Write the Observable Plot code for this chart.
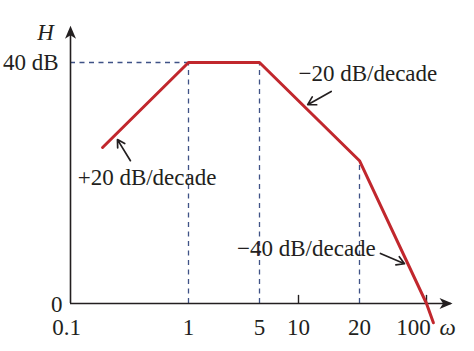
<!DOCTYPE html>
<html>
<head>
<meta charset="utf-8">
<script src="https://cdn.jsdelivr.net/npm/d3@7"></script>
<script src="https://cdn.jsdelivr.net/npm/@observablehq/plot@0.6"></script>
<style>
  html, body { margin: 0; padding: 0; background: #fff; }
  svg text { font-family: "Liberation Serif", "Times New Roman", serif; }
</style>
</head>
<body>
<div id="chart"></div>
<script>
// Bode magnitude asymptotes (omega, H in dB)
const omega = [0.187, 1, 5, 20, 100, 118];
const H = [25.9, 40, 40, 23.7, 0, -3.2];

// Axis tick labels
const xTicks = [0.1, 1, 5, 10, 20, 100];
const xTickLabels = ["0.1", "1", "5", "10", "20", "100"];
const yTicks = [0, 40];
const yTickLabels = ["0", "40 dB"];

// Corner frequencies with dashed guides
const corners = [1, 5, 20];
const cornerH = [40, 40, 23.7];
const smallTicks = [10, 100];

// Slope annotations: label, label position, arrow tail, arrow head
const annLabels = ["+20 dB/decade", "\u221220 dB/decade", "\u221240 dB/decade"];
const annX = [0.115, 10, 29.6];
const annY = [20.9, 38.2, 9.1];
const annAnchor = ["start", "start", "end"];
const arrowX1 = [0.322, 14.5, 33.1];
const arrowY1 = [23.7, 35.2, 8.3];
const arrowX2 = [0.25, 11.1, 59];
const arrowY2 = [27.2, 33.0, 6.6];

// Axis extents
const xAxisEnd = 187;
const yAxisEnd = 46.1;

const curve = omega.map((w, i) => ({w, h: H[i]}));
const guides = corners.map((w, i) => ({w, h: cornerH[i]}));
const ann = annLabels.map((t, i) => ({t, x: annX[i], y: annY[i], anchor: annAnchor[i],
  x1: arrowX1[i], y1: arrowY1[i], x2: arrowX2[i], y2: arrowY2[i]}));
const xt = xTicks.map((v, i) => ({v, label: xTickLabels[i]}));
const yt = yTicks.map((v, i) => ({v, label: yTickLabels[i]}));

const arrowHead = {
  draw(ctx) {
    ctx.moveTo(0, 0);
    ctx.lineTo(5.5, 13);
    ctx.lineTo(0, 9.5);
    ctx.lineTo(-5.5, 13);
    ctx.closePath();
  }
};

const font = "'Liberation Serif', 'Times New Roman', serif";
const ink = "#231f20";
const red = "#c1272d";
const blue = "#3f5286";
const fs = 23;

const plot = Plot.plot({
  width: 474,
  height: 351,
  x: {type: "log", domain: xTicks, range: [70, 188, 259, 298, 359, 426], axis: null},
  y: {domain: [0, 40], range: [303, 62], axis: null},
  style: {fontFamily: font, background: "#fff"},
  marks: [
    // dashed guides
    Plot.ruleY([40], {x1: 0.1, x2: 1, stroke: blue, strokeWidth: 1.3, strokeDasharray: "5,4.5"}),
    Plot.ruleX(guides, {x: "w", y1: 0, y2: "h", stroke: blue, strokeWidth: 1.3, strokeDasharray: "5,4.5"}),
    // axes
    Plot.ruleY([0], {x1: 0.1, x2: xAxisEnd * 0.97, stroke: ink, strokeWidth: 1.6}),
    Plot.ruleX([0.1], {y1: 0, y2: yAxisEnd - 1, stroke: ink, strokeWidth: 1.6}),
    Plot.dot([0], {x: 0.1, y: yAxisEnd, symbol: arrowHead, fill: ink, stroke: null}),
    Plot.dot([0], {x: xAxisEnd, y: 0, symbol: arrowHead, fill: ink, stroke: null, rotate: 90}),
    Plot.ruleX(smallTicks, {y1: 0, y2: 1.35, stroke: ink, strokeWidth: 1.4}),
    // curve
    Plot.line(curve, {x: "w", y: "h", stroke: red, strokeWidth: 3}),
    // annotations
    Plot.arrow(ann, {x1: "x1", y1: "y1", x2: "x2", y2: "y2", stroke: ink, strokeWidth: 1.7, headLength: 8}),
    Plot.text(ann.filter(d => d.anchor === "start"), {x: "x", y: "y", text: "t", textAnchor: "start", fontSize: fs, fontFamily: font, fill: ink}),
    Plot.text(ann.filter(d => d.anchor === "end"), {x: "x", y: "y", text: "t", textAnchor: "end", fontSize: fs, fontFamily: font, fill: ink}),
    // tick labels
    Plot.text(xt.filter(d => d.v > 0.1 && d.v < 100), {x: "v", y: 0, dy: 24, text: "label", fontSize: fs, fontFamily: font, fill: ink}),
    Plot.text(xt.filter(d => d.v === 0.1), {x: "v", y: 0, dy: 24, dx: -4, text: "label", fontSize: fs, fontFamily: font, fill: ink}),
    Plot.text(xt.filter(d => d.v === 100), {x: "v", y: 0, dy: 24, dx: -13, text: "label", fontSize: fs, fontFamily: font, fill: ink}),
    Plot.text(yt.filter(d => d.v === 40), {x: 0.1, y: "v", dx: -12, text: "label", textAnchor: "end", fontSize: fs, fontFamily: font, fill: ink}),
    Plot.text(yt.filter(d => d.v === 0), {x: 0.1, y: "v", dx: -8, dy: 1, text: "label", textAnchor: "end", fontSize: fs, fontFamily: font, fill: ink}),
    // axis titles
    Plot.text(["H"], {x: 0.1, y: 45, dx: -25, text: d => d, fontSize: fs, fontFamily: font, fontStyle: "italic", fill: ink}),
    Plot.text(["\u03c9"], {x: xAxisEnd, y: -4, dx: -5, text: d => d, fontSize: fs, fontFamily: font, fontStyle: "italic", fill: ink})
  ]
});
document.getElementById("chart").appendChild(plot);
</script>
</body>
</html>
